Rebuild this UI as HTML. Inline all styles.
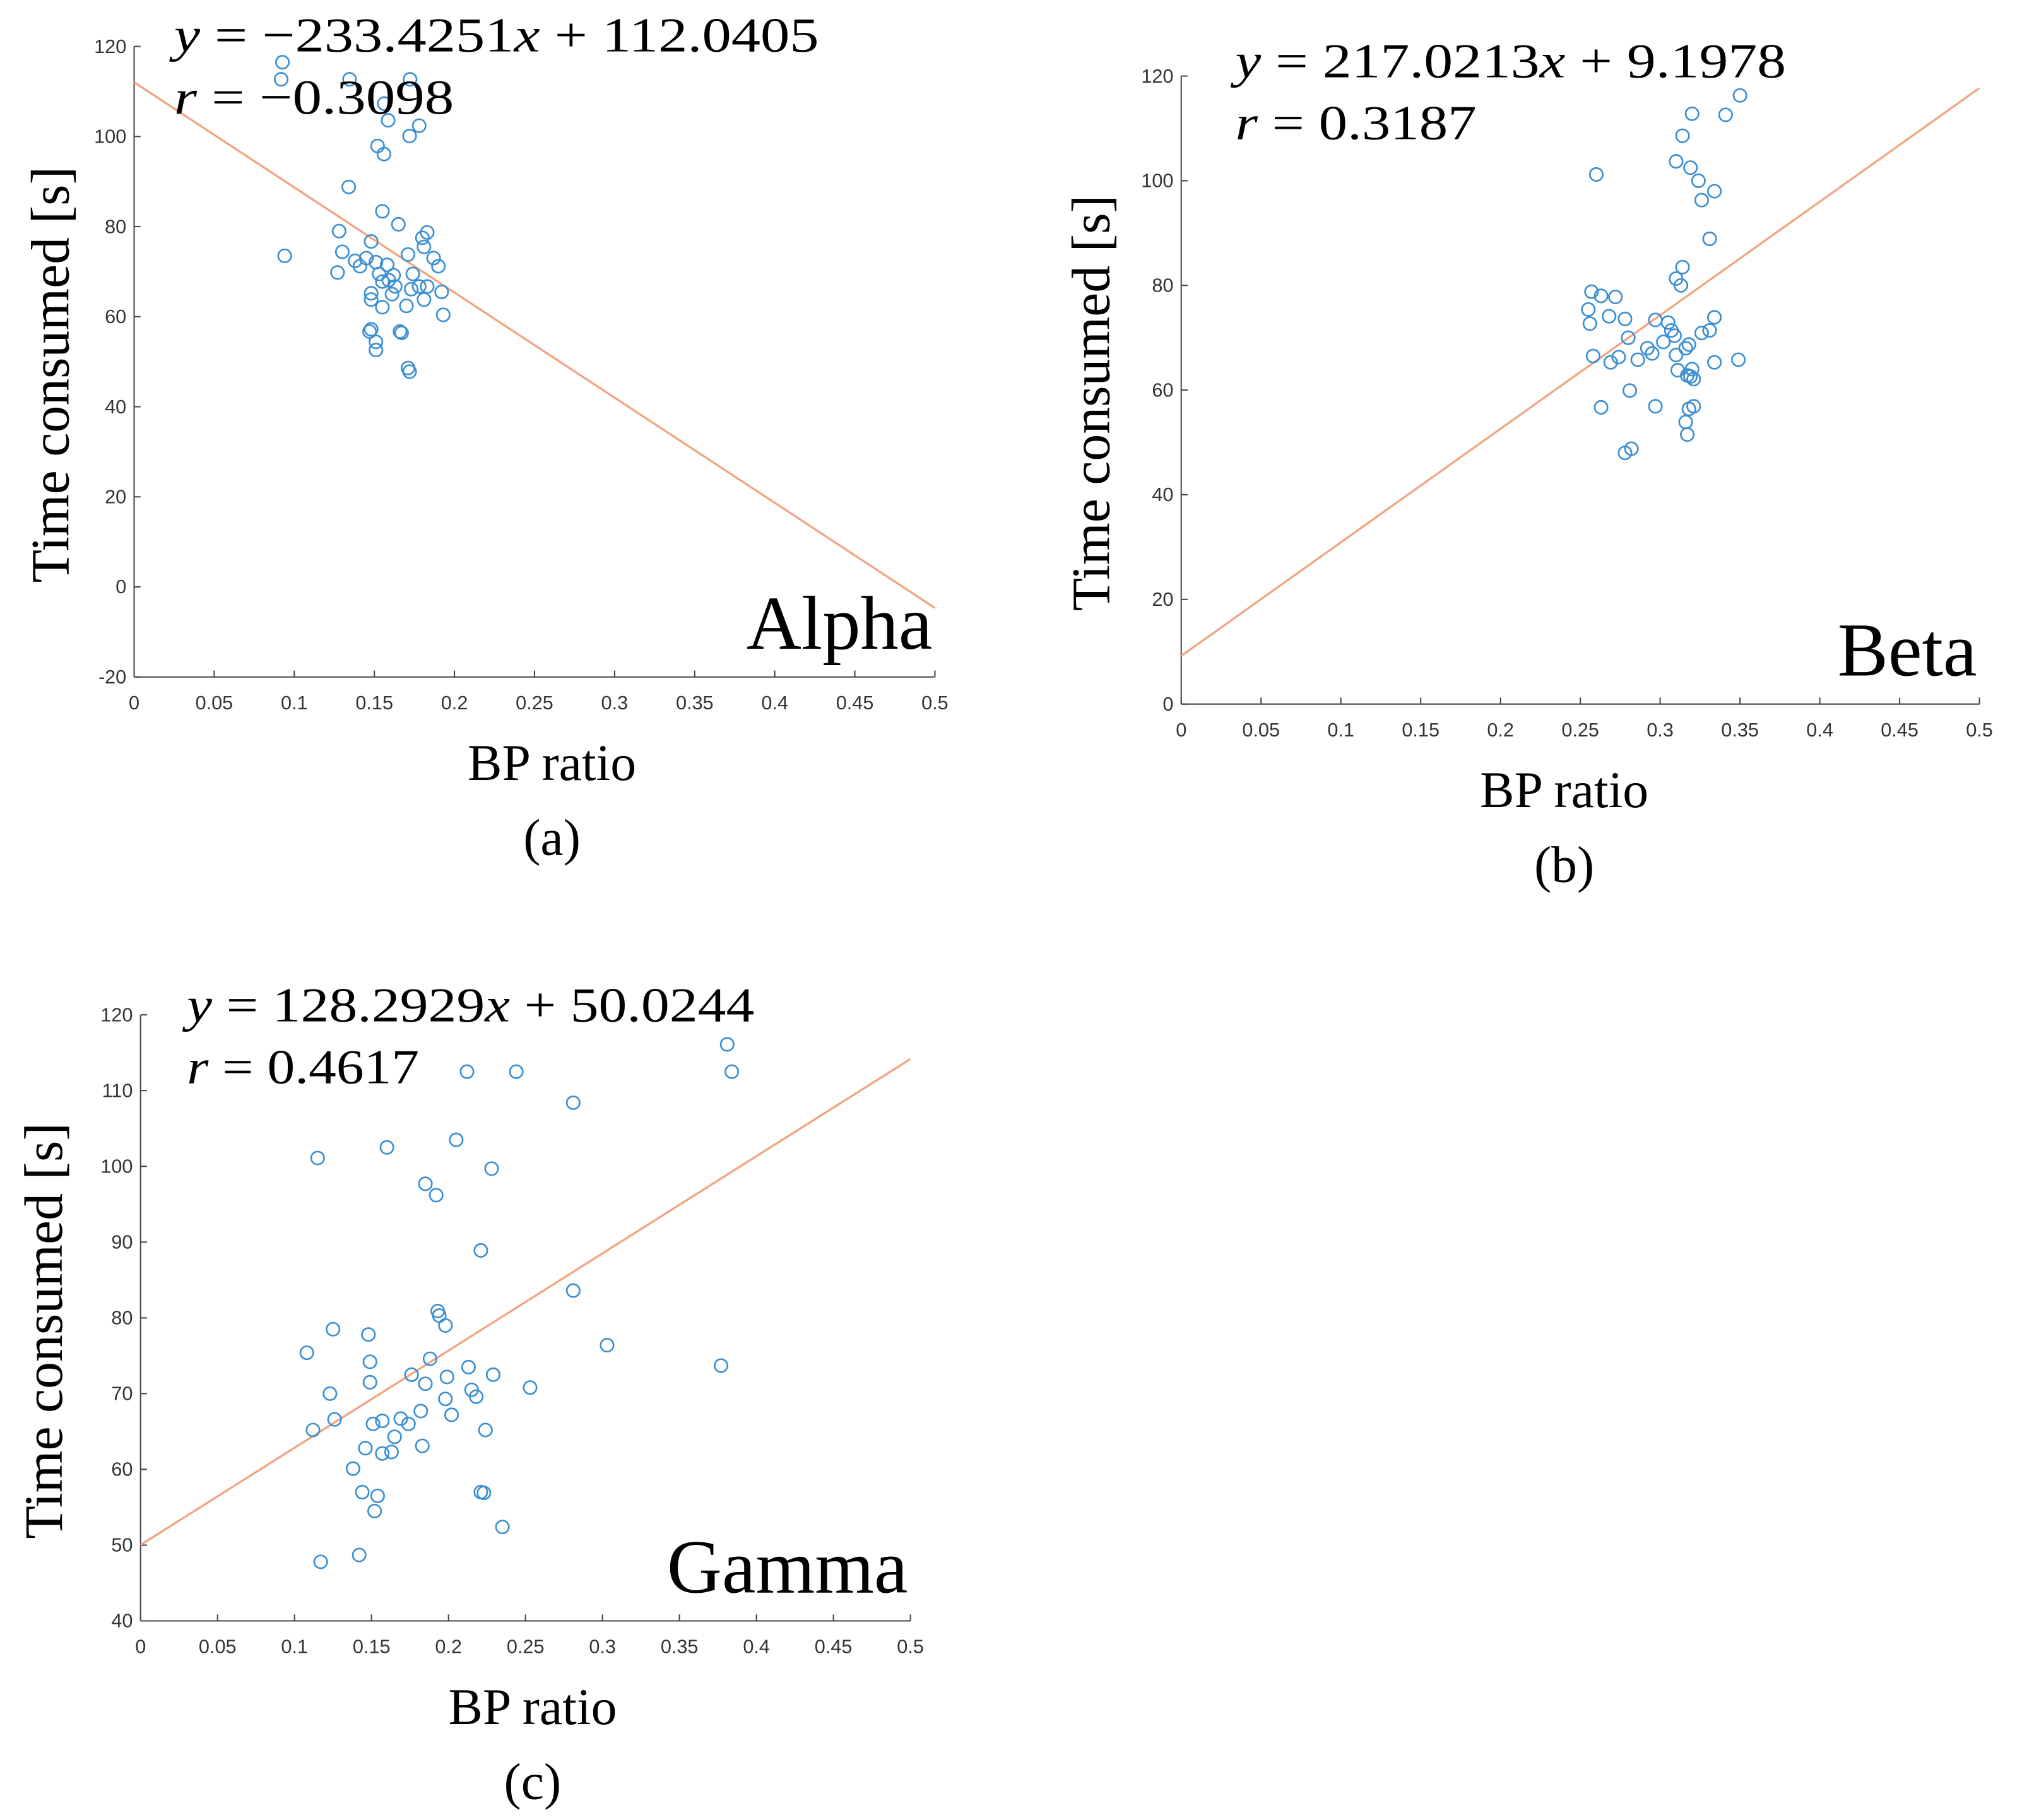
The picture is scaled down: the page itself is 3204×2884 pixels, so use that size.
<!DOCTYPE html>
<html>
<head>
<meta charset="utf-8">
<style>
html,body{margin:0;padding:0;background:#fff;}
svg{display:block;}
.tick{font-family:"Liberation Sans",sans-serif;font-size:15px;fill:#333;}
.title{font-family:"Liberation Serif",serif;font-size:40px;fill:#000;}
.ytitle{font-family:"Liberation Serif",serif;font-size:42px;fill:#000;}
.eq{font-family:"Liberation Serif",serif;font-size:38px;fill:#000;}
.band{font-family:"Liberation Serif",serif;font-size:59px;fill:#000;}
</style>
</head>
<body>
<svg id="fig" width="3204" height="2884" viewBox="0 0 1568 1411.4" xmlns="http://www.w3.org/2000/svg"></svg>
<script>
// ---- data ----
const alphaX = [0.0926,0.0918,0.1345,0.1723,0.1562,0.1586,0.178,0.172,0.152,0.156,0.134,0.155,0.165,0.094,0.128,0.183,0.180,0.148,0.130,0.138,0.145,0.151,0.158,0.171,0.187,0.190,0.181,0.127,0.141,0.153,0.162,0.174,0.163,0.159,0.155,0.178,0.183,0.173,0.148,0.161,0.192,0.170,0.181,0.155,0.148,0.193,0.148,0.147,0.166,0.151,0.151,0.171,0.172,0.167];
const alphaY = [116.5,112.7,112.7,112.7,107.3,103.6,102.4,100.1,97.9,96.1,88.8,83.4,80.5,73.5,79,78.7,77.5,76.7,74.4,72.4,73,72.1,71.5,73.8,73,71.2,75.5,69.8,71.2,69.5,69.2,69.5,66.7,68.1,67.8,66.7,66.7,66.1,65.2,65,65.5,62.4,63.8,62.1,63.8,60.4,57.2,56.7,56.7,54.4,52.6,48.6,47.8,56.4];
const betaX = [0.350,0.320,0.341,0.314,0.310,0.319,0.260,0.324,0.334,0.326,0.331,0.257,0.263,0.272,0.255,0.314,0.310,0.313,0.256,0.278,0.268,0.280,0.334,0.331,0.326,0.305,0.297,0.307,0.309,0.302,0.292,0.295,0.286,0.274,0.269,0.258,0.318,0.316,0.311,0.317,0.321,0.319,0.334,0.349,0.281,0.263,0.297,0.318,0.321,0.316,0.317,0.278,0.282,0.310,0.320];
const betaY = [116.3,112.8,112.6,108.6,103.7,102.5,101.2,100,98,96.3,88.9,78.8,78,77.8,75.4,83.5,81.3,80,72.7,73.6,74.1,70,73.9,71.4,70.9,72.9,73.4,71.4,70.4,69.2,68,67,65.8,66.3,65.3,66.5,68.7,68,63.8,62.8,62.1,62.6,65.3,65.8,59.9,56.7,56.9,56.4,56.9,53.9,51.5,48,48.8,66.7,64];
const gammaX = [0.381,0.384,0.212,0.244,0.281,0.115,0.160,0.205,0.228,0.185,0.192,0.221,0.281,0.303,0.377,0.108,0.125,0.148,0.149,0.193,0.194,0.198,0.188,0.176,0.213,0.229,0.253,0.123,0.149,0.199,0.185,0.215,0.218,0.198,0.126,0.151,0.157,0.169,0.174,0.182,0.112,0.224,0.202,0.146,0.165,0.163,0.183,0.138,0.157,0.144,0.154,0.152,0.221,0.223,0.235,0.117,0.142];
const gammaY = [116.1,112.5,112.5,112.5,108.4,101.1,102.5,103.5,99.7,97.7,96.2,88.9,83.6,76.4,73.7,75.4,78.5,77.8,74.2,80.9,80.3,79,74.6,72.5,73.5,72.5,70.8,70,71.5,72.2,71.3,70.5,69.6,69.3,66.6,66,66.4,66.7,66,67.7,65.2,65.2,67.2,62.8,64.3,62.3,63.1,60.1,62.1,57,56.5,54.5,57,56.9,52.4,47.8,48.7];
const xTicks = [0,0.05,0.1,0.15,0.2,0.25,0.3,0.35,0.4,0.45,0.5];
const alphaYTicks = [-20,0,20,40,60,80,100,120];
const betaYTicks = [0,20,40,60,80,100,120];
const gammaYTicks = [40,50,60,70,80,90,100,110,120];
const fitSlope = [-233.4251, 217.0213, 128.2929];
const fitIntercept = [112.0405, 9.1978, 50.0244];

const NS = "http://www.w3.org/2000/svg";
const svg = document.getElementById('fig');
function mk(tag, attrs, parent){
  const e = document.createElementNS(NS, tag);
  for (const k in attrs) e.setAttribute(k, attrs[k]);
  (parent||svg).appendChild(e);
  return e;
}

function panel(cfg){
  const g = mk('g', {});
  
  
  const sx = v => cfg.x0 + (v - 0) / 0.5 * (cfg.x1 - cfg.x0);
  const sy = v => cfg.yb + (v - cfg.ymin) / (cfg.ymax - cfg.ymin) * (cfg.yt - cfg.yb);
  const ax = mk('line', {x1:cfg.x0, y1:cfg.yb, x2:cfg.x1, y2:cfg.yb, stroke:'#444', 'stroke-width':1}, g);
  
  
  const ay = mk('line', {x1:cfg.x0, y1:cfg.yb, x2:cfg.x0, y2:cfg.yt, stroke:'#444', 'stroke-width':1}, g);
  
  
  xTicks.forEach(t => {
    const x = sx(t);
    mk('line', {x1:x, y1:cfg.yb, x2:x, y2:cfg.yb-5, stroke:'#444'}, g);
    const tx = mk('text', {x:x, y:cfg.yb+25, 'text-anchor':'middle', class:'tick'}, g);
    tx.textContent = t;
    
    
  });
  cfg.yTicks.forEach(t => {
    const y = sy(t);
    mk('line', {x1:cfg.x0, y1:y, x2:cfg.x0+5, y2:y, stroke:'#444'}, g);
    const ty = mk('text', {x:cfg.x0-6, y:y+5, 'text-anchor':'end', class:'tick'}, g);
    ty.textContent = t;
    
    
  });
  const fl = mk('line', {x1:sx(0), y1:sy(cfg.b), x2:sx(0.5), y2:sy(cfg.b + cfg.m*0.5), stroke:'#f0a57f', 'stroke-width':1.6}, g);
  
  
  cfg.xs.forEach((v,i) => {
    const c = mk('circle', {cx:sx(v), cy:sy(cfg.ys[i]), r:5, fill:'none', stroke:'#3a8fd3', 'stroke-width':1.3}, g);
    
    
  });
  const xl = mk('text', {x:cfg.cx, y:cfg.yb+80, 'text-anchor':'middle', class:'title'}, g);
  xl.textContent = 'BP ratio';
  
  
  const yc = (cfg.yt+cfg.yb)/2 + 10;
  const yl = mk('text', {x:cfg.ylx, y:yc, 'text-anchor':'middle', class:'ytitle', transform:'rotate(-90 '+cfg.ylx+' '+yc+')'}, g);
  yl.textContent = 'Time consumed [s]';
  
  
  const cap = mk('text', {x:cfg.cx, y:cfg.yb+138, 'text-anchor':'middle', class:'title'}, g);
  cap.textContent = cfg.cap;
  
  
  const bl = mk('text', {x:cfg.x1-2, y:cfg.yb-22, 'text-anchor':'end', class:'band'}, g);
  bl.textContent = cfg.band;
  
  
  const e1 = mk('text', {x:cfg.ex, y:cfg.ey, class:'eq', textLength:cfg.w1, lengthAdjust:'spacingAndGlyphs'}, g);
  e1.innerHTML = '<tspan font-style="italic">y</tspan> = ' + cfg.eq1;
  
  
  const e2 = mk('text', {x:cfg.ex, y:cfg.ey+48, class:'eq', textLength:cfg.w2, lengthAdjust:'spacingAndGlyphs'}, g);
  e2.innerHTML = '<tspan font-style="italic">r</tspan> = ' + cfg.eq2;
  
  
}

panel({name:'alpha', x0:104, x1:725, yb:525, yt:36, ymin:-20, ymax:120, yTicks:alphaYTicks,
  xs:alphaX, ys:alphaY, m:fitSlope[0], b:fitIntercept[0], cap:'(a)', band:'Alpha', ylx:53, cx:428,
  ex:135, ey:40, w1:500, w2:217, eq1:'\u2212233.4251<tspan font-style="italic">x</tspan> + 112.0405', eq2:'\u22120.3098'});
panel({name:'beta', x0:916, x1:1535, yb:546, yt:59, ymin:0, ymax:120, yTicks:betaYTicks,
  xs:betaX, ys:betaY, m:fitSlope[1], b:fitIntercept[1], cap:'(b)', band:'Beta', ylx:860, cx:1213,
  ex:958, ey:60, w1:427, w2:187, eq1:'217.0213<tspan font-style="italic">x</tspan> + 9.1978', eq2:'0.3187'});
panel({name:'gamma', x0:109, x1:706, yb:1257, yt:787, ymin:40, ymax:120, yTicks:gammaYTicks,
  xs:gammaX, ys:gammaY, m:fitSlope[2], b:fitIntercept[2], cap:'(c)', band:'Gamma', ylx:48, cx:413,
  ex:145, ey:792, w1:440, w2:180, eq1:'128.2929<tspan font-style="italic">x</tspan> + 50.0244', eq2:'0.4617'});
</script>
</body>
</html>
